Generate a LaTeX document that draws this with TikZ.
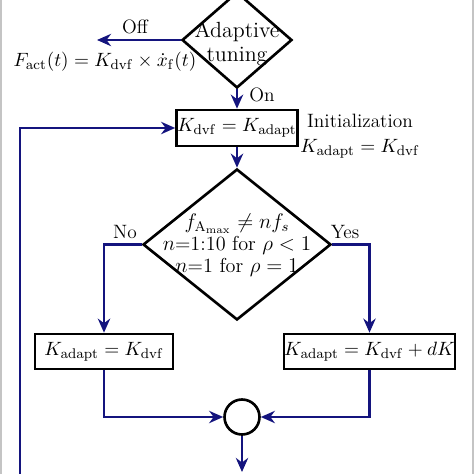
\documentclass[tikz,border=0pt]{standalone}
\usepackage{xcolor}
\definecolor{flow-blue}{HTML}{14147E}
\definecolor{frame-gray}{HTML}{C4C4C4}
\usepackage{tikz}
\usetikzlibrary{shapes.geometric,arrows.meta}

\tikzset{
  block/.style={draw=black, line width=1.5pt, fill=white, minimum height=0.7cm, inner sep=0pt},
  decision/.style={draw=black, line width=1.5pt, diamond, inner sep=0pt},
  flow/.style={draw=flow-blue, line width=1.4pt, -{Stealth[length=8pt,width=7pt]}},
}

\begin{document}
\begin{tikzpicture}[x=0.02cm, y=-0.02cm, font=\fontsize{11}{13}\selectfont]
    \useasboundingbox (0,0) rectangle (474,474);

    % Side frame
    \fill[frame-gray] (0,0) rectangle (2,474);
    \fill[frame-gray] (472,0) rectangle (474,474);

    % Adaptive tuning
    \node[decision, minimum width=2.2cm, minimum height=1.92cm] (tune) at (237,40) {};
    \node[align=center, inner sep=1pt, font=\fontsize{12.5}{13.5}\selectfont] (tunetext) at (237,44) {Adaptive\\tuning};
    \node (off) at (135,27) {Off};
    \node (on) at (262,95) {On};
    \node[inner sep=1pt] (force) at (105,62) {$F_{\mathrm{act}}(t) = K_{\mathrm{dvf}} \times \dot{x}_{\mathrm{f}}(t)$};
    \coordinate (offend) at (97,40);

    % Initialization
    \node[block, minimum width=2.42cm, minimum height=0.72cm] (init) at (237,128) {$K_{\mathrm{dvf}} = K_{\mathrm{adapt}}$};
    \node (inittext) at (360,121) {Initialization};
    \node (initeq) at (360,149) {$K_{\mathrm{adapt}} = K_{\mathrm{dvf}}$};

    % Frequency check
    \node[decision, minimum width=3.76cm, minimum height=3.02cm] (check) at (237,244.5) {};
    \node[align=center, font=\fontsize{11.5}{12.5}\selectfont] (checktext) at (237,245)
        {$f_{\mathrm{A}_{\max}} \neq n f_s$\\$n$=1:10 for $\rho < 1$\\$n$=1 for $\rho = 1$};
    \node (no) at (125,232) {No};
    \node (yes) at (345,232) {Yes};

    % Gain update
    \node[block, minimum width=2.76cm] (keep) at (104,351.5) {$K_{\mathrm{adapt}} = K_{\mathrm{dvf}}$};
    \node[block, minimum width=3.42cm] (raise) at (369.5,351.5) {$K_{\mathrm{adapt}} = K_{\mathrm{dvf}} + dK$};

    % Merge
    \node[draw=black, line width=1.5pt, circle, minimum size=0.7cm, inner sep=0pt] (merge) at (242,417) {};
    \coordinate (out) at (242,472);
    \coordinate (loopstart) at (20,480);

    % Connectors
    \draw[flow] (tune.west) -- (offend);
    \draw[flow] (tune.south) -- (init.north);
    \draw[flow] (init.south) -- (check.north);
    \draw[flow] (check.west) -| (keep.north);
    \draw[flow] (check.east) -| (raise.north);
    \draw[flow] (keep.south) |- (merge.west);
    \draw[flow] (raise.south) |- (merge.east);
    \draw[flow] (merge.south) -- (out);
    \draw[flow] (loopstart) |- (init.west);

\end{tikzpicture}
\end{document}
